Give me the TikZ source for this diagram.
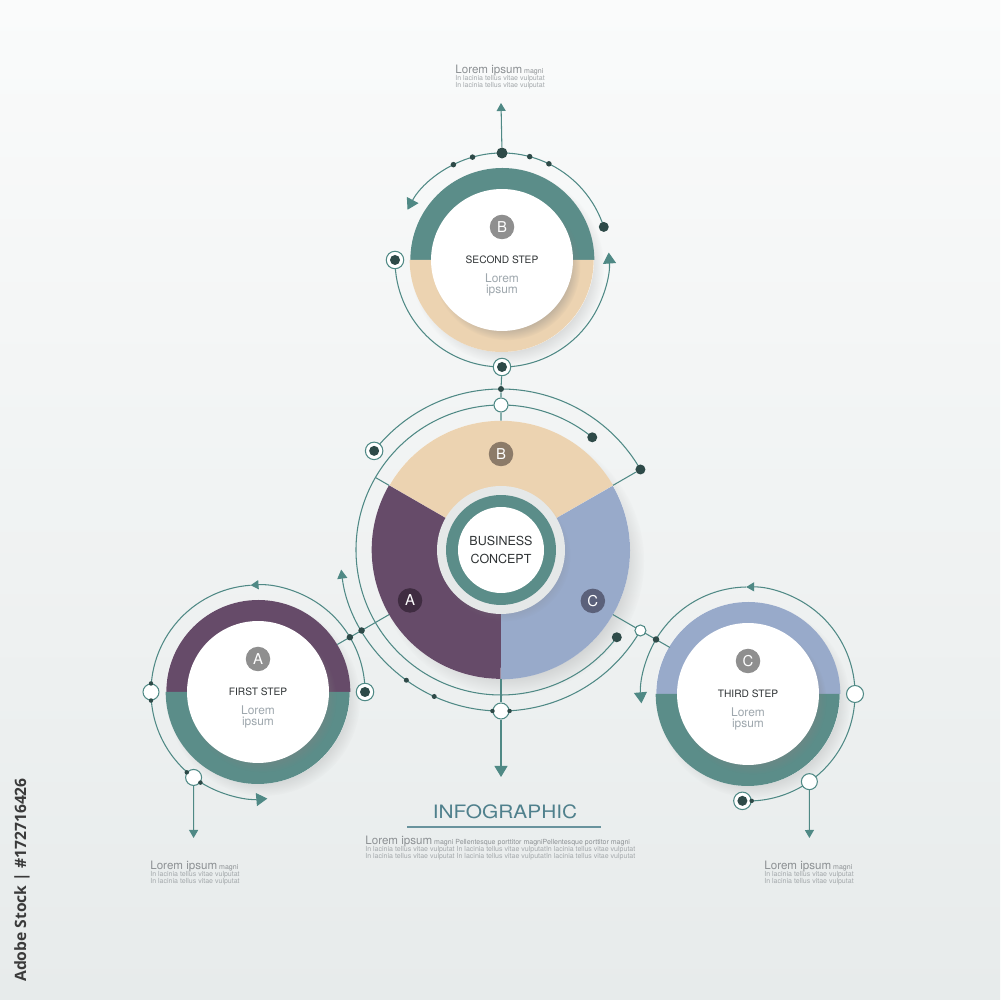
\documentclass[tikz,border=0pt]{standalone}
\usepackage{fontspec}
\setmainfont{TeX Gyre Heros}
\newfontfamily\widefont[FakeStretch=1.13]{TeX Gyre Heros}
\newfontfamily\stockfont{Open Sans}
\usetikzlibrary{arrows.meta,shadows,calc,positioning}
\pgfdeclarelayer{back}
\pgfdeclarelayer{wires}
\pgfsetlayers{back,wires,main}

\definecolor{wirec}{HTML}{4F8985}
\definecolor{dotc}{HTML}{2E4A48}
\definecolor{tealc}{HTML}{5B8D89}
\definecolor{tanc}{HTML}{ECD3B1}
\definecolor{plumc}{HTML}{664B69}
\definecolor{bluec}{HTML}{98AACA}
\definecolor{hubgray}{HTML}{E5E8E8}
\definecolor{badgeB}{HTML}{8C7B69}
\definecolor{badgeA}{HTML}{3F2C41}
\definecolor{badgeC}{HTML}{5B617A}
\definecolor{badgegray}{HTML}{8F8F8F}
\definecolor{titlec}{HTML}{2F3335}
\definecolor{loremc}{HTML}{9EA7AD}
\definecolor{notec}{HTML}{8D9194}
\definecolor{notelight}{HTML}{A3A8AB}
\definecolor{infoc}{HTML}{4F808C}
\definecolor{bgtop}{HTML}{FAFBFB}
\definecolor{bgbot}{HTML}{E7EBEB}
\definecolor{stockc}{HTML}{3A3A3A}

\tikzstyle{wire}=[draw=wirec, line width=0.6pt]
\tikzstyle{bigtip}=[-{Triangle[length=0.22cm,width=0.26cm]}]
\tikzstyle{smalltip}=[-{Triangle[length=0.16cm,width=0.18cm]}]
\tikzstyle{ringdot}=[circle, draw=wirec, line width=0.6pt, fill=white, minimum size=0.35cm, inner sep=0pt,
  path picture={\fill[dotc] (path picture bounding box.center) circle[radius=0.1cm];}]
\tikzstyle{holedot}=[circle, draw=wirec, line width=0.6pt, fill=white, minimum size=0.32cm, inner sep=0pt]
\tikzstyle{bigdot}=[circle, fill=dotc, minimum size=0.2cm, inner sep=0pt]
\tikzstyle{smalldot}=[circle, fill=dotc, minimum size=0.12cm, inner sep=0pt]
\tikzstyle{badge}=[circle, fill=badgegray, text=white, minimum size=0.49cm, inner sep=0pt, font=\fontsize{8.5}{8.5}\selectfont]
\tikzstyle{stepring}=[circle, fill=white, minimum size=3.68cm, inner sep=0pt,
  circular drop shadow={shadow xshift=3pt, shadow yshift=-4pt, shadow scale=1.05, opacity=0.22}]
\tikzstyle{stepface}=[circle, fill=white, minimum size=2.84cm, inner sep=0pt,
  circular drop shadow={shadow xshift=2.5pt, shadow yshift=-3.5pt, shadow scale=1.04, opacity=0.38}]
\tikzstyle{steptitle}=[inner sep=0pt, text=titlec, font=\fontsize{5.8}{6}\selectfont]
\tikzstyle{steplorem}=[inner sep=0pt, text=loremc, align=center, font=\fontsize{6.8}{6.4}\selectfont]
\tikzstyle{notehead}=[inner sep=0pt, anchor=base west, text=notec, font=\fontsize{6.6}{6.6}\selectfont]
\tikzstyle{noteline}=[inner sep=0pt, text=notelight, font=\fontsize{4}{4}\selectfont]

\begin{document}
\begin{tikzpicture}[x=0.02cm, y=0.02cm]
\useasboundingbox (0,0) rectangle (1000,1000);
\coordinate (M) at (501,450);
\coordinate (GB) at (502,740);
\coordinate (GA) at (258,308);
\coordinate (GC) at (748,306);

\begin{pgfonlayer}{back}
\shade[top color=bgtop, bottom color=bgbot] (0,0) rectangle (1000,1000);
% business concept disc
\node[circle, fill=white, minimum size=5.16cm, inner sep=0pt,
  circular drop shadow={shadow xshift=5pt, shadow yshift=-6pt, shadow scale=1.04, opacity=0.25}] (pie) at (M) {};
\fill[tanc] (M) -- (pie.30) arc[start angle=30, end angle=150, radius=129] -- cycle;
\fill[plumc] (M) -- (pie.150) arc[start angle=150, end angle=270, radius=129] -- cycle;
\fill[bluec] (M) -- (pie.270) arc[start angle=270, end angle=390, radius=129] -- cycle;
\node[circle, fill=hubgray, minimum size=2.56cm, inner sep=0pt,
  circular drop shadow={shadow xshift=2pt, shadow yshift=-3pt, shadow scale=1.03, opacity=0.2}] (hubbase) at (M) {};
\node[circle, fill=tealc, minimum size=2.2cm, inner sep=0pt] (hubring) at (M) {};
\node[circle, fill=white, minimum size=1.72cm, inner sep=0pt, align=center, text=titlec,
  font=\fontsize{7.1}{10.2}\selectfont] (hub) at (M) {BUSINESS\\CONCEPT};
\node[badge, fill=badgeB] (pieB) at ($(M)+(90:96)$) {B};
\node[badge, fill=badgeA] (pieA) at ($(M)+(209:104)$) {A};
\node[badge, fill=badgeC] (pieC) at ($(M)+(331:105)$) {C};

% second step
\node[stepring] (ringB) at (GB) {};
\fill[tealc] (GB) -- (ringB.0) arc[start angle=0, end angle=180, radius=92] -- cycle;
\fill[tanc] (GB) -- (ringB.180) arc[start angle=180, end angle=360, radius=92] -- cycle;
\node[stepface] (faceB) at (GB) {};
\node[badge] (badgeB) at ($(GB)+(0,33)$) {B};
\node[steptitle] (titleB) at (GB) {SECOND STEP};
\node[steplorem, below=5pt of titleB] (loremB) {Lorem\\ipsum};

% first step
\node[stepring] (ringA) at (GA) {};
\fill[plumc] (GA) -- (ringA.0) arc[start angle=0, end angle=180, radius=92] -- cycle;
\fill[tealc] (GA) -- (ringA.180) arc[start angle=180, end angle=360, radius=92] -- cycle;
\node[stepface] (faceA) at (GA) {};
\node[badge] (badgeA) at ($(GA)+(0,33)$) {A};
\node[steptitle] (titleA) at (GA) {FIRST STEP};
\node[steplorem, below=5pt of titleA] (loremA) {Lorem\\ipsum};

% third step
\node[stepring] (ringC) at (GC) {};
\fill[bluec] (GC) -- (ringC.0) arc[start angle=0, end angle=180, radius=92] -- cycle;
\fill[tealc] (GC) -- (ringC.180) arc[start angle=180, end angle=360, radius=92] -- cycle;
\node[stepface] (faceC) at (GC) {};
\node[badge] (badgeC) at ($(GC)+(0,33)$) {C};
\node[steptitle] (titleC) at (GC) {THIRD STEP};
\node[steplorem, below=5pt of titleC] (loremC) {Lorem\\ipsum};
\end{pgfonlayer}

% dots round the centre
\node[bigdot] (d30) at ($(M)+(30:161)$) {};
\node[smalldot] (d90) at ($(M)+(90:161)$) {};
\node[ringdot] (r142) at ($(M)+(142:161)$) {};
\node[holedot, minimum size=0.28cm] (h90) at ($(M)+(90:145)$) {};
\node[bigdot] (d51) at ($(M)+(51:145)$) {};
\node[bigdot] (d323) at ($(M)+(323:145)$) {};
\node[smalldot, minimum size=0.13cm] (d210) at ($(M)+(210:161)$) {};
\node[smalldot, minimum size=0.1cm] (d234) at ($(M)+(234:161)$) {};
\node[smalldot, minimum size=0.1cm] (d245) at ($(M)+(245.5:161)$) {};
\node[holedot] (h270) at ($(M)+(270:161)$) {};
\node[smalldot, minimum size=0.09cm] (h270w) at (h270.west) {};
\node[smalldot, minimum size=0.09cm] (h270e) at (h270.east) {};
\node[holedot, minimum size=0.22cm] (h330) at ($(M)+(330:161)$) {};
\coordinate (k150) at ($(M)+(150:145)$);
\coordinate (e210) at ($(M)+(210:189)$);
\coordinate (e330) at ($(M)+(330:195)$);
\coordinate (downtip) at (501,223);

% dots of second step
\node[bigdot] (dB18) at ($(GB)+(18:107)$) {};
\foreach \a in {64,75,106,117}
  \node[smalldot, minimum size=0.11cm] (dB\a) at ($(GB)+(\a:107)$) {};
\node[bigdot, minimum size=0.22cm] (dB90) at ($(GB)+(90:107)$) {};
\node[ringdot] (rB180) at ($(GB)+(180:107)$) {};
\node[ringdot] (rB270) at ($(GB)+(270:107)$) {};
\coordinate (tipB) at (501,897);

% dots of first step
\node[ringdot] (rA0) at ($(GA)+(0:107)$) {};
\node[smalldot, minimum size=0.13cm] (dA31) at ($(M)+(210:174.5)$) {};
\node[holedot] (hA180) at ($(GA)+(180:107)$) {};
\node[smalldot, minimum size=0.09cm] (hA180n) at (hA180.north) {};
\node[smalldot, minimum size=0.09cm] (hA180s) at (hA180.south) {};
\node[holedot] (hA233) at ($(GA)+(233:107)$) {};
\node[smalldot, minimum size=0.09cm] (hA233a) at (hA233.143) {};
\node[smalldot, minimum size=0.09cm] (hA233b) at (hA233.323) {};
\coordinate (tipA) at (193.6,162);

% dots of third step
\node[ringdot] (rC267) at ($(GC)+(267:107)$) {};
\node[smalldot, minimum size=0.09cm] (rC267e) at (rC267.east) {};
\node[holedot, minimum size=0.34cm] (hC0) at ($(GC)+(0:107)$) {};
\node[holedot] (hC305) at ($(GC)+(305:107)$) {};
\node[smalldot, minimum size=0.13cm] (dC149) at ($(M)+(330:179)$) {};
\coordinate (tipC) at (809.4,162);

\begin{pgfonlayer}{wires}
\draw[wire] (M) ++(30:161) arc[start angle=30, end angle=142, radius=161];
\draw[wire] (M) ++(51:145) arc[start angle=51, end angle=323, radius=145];
\draw[wire, -{Triangle[length=0.18cm,width=0.2cm]}] (M) ++(330:161) arc[start angle=330, end angle=187, radius=161];
\draw[wire] (pie.30) -- (d30);
\draw[wire] (pie.150) -- (k150);
\draw[wire] (pie.210) -- (e210);
\draw[wire] (pie.330) -- (e330);
\draw[wire] (pie.90) -- (h90) -- (d90) -- (rB270);
\draw[wire] (pie.270) -- (h270);
\draw[wire, bigtip] (h270) -- (downtip);

\draw[wire, bigtip] (GB) ++(18:107) arc[start angle=18, end angle=152, radius=107];
\draw[wire, bigtip] (GB) ++(180:107) arc[start angle=180, end angle=364, radius=107];
\draw[wire, smalltip] (dB90) -- (tipB);

\draw[wire, smalltip] (GA) ++(0:107) arc[start angle=0, end angle=94, radius=107];
\draw[wire, bigtip] (GA) ++(94:107) arc[start angle=94, end angle=275, radius=107];
\draw[wire, smalltip] (hA233) -- (tipA);

\draw[wire, smalltip] (GC) ++(267:107) arc[start angle=267, end angle=451, radius=107];
\draw[wire, bigtip] (GC) ++(91:107) arc[start angle=91, end angle=185, radius=107];
\draw[wire, smalltip] (hC305) -- (tipC);
\end{pgfonlayer}

% notes
\node[notehead] (noteTop) at (455,926) {Lorem ipsum{\fontsize{4}{4}\selectfont\ magni}};
\node[noteline, below right=0.8pt and 0pt of noteTop.base west] (noteTop2) {In lacinia tellus vitae vulputat};
\node[noteline, below right=0.8pt and 0pt of noteTop2.base west] (noteTop3) {In lacinia tellus vitae vulputat};

\node[notehead] (noteLeft) at (150,130) {Lorem ipsum{\fontsize{4}{4}\selectfont\ magni}};
\node[noteline, below right=0.8pt and 0pt of noteLeft.base west] (noteLeft2) {In lacinia tellus vitae vulputat};
\node[noteline, below right=0.8pt and 0pt of noteLeft2.base west] (noteLeft3) {In lacinia tellus vitae vulputat};

\node[notehead] (noteRight) at (764,130) {Lorem ipsum{\fontsize{4}{4}\selectfont\ magni}};
\node[noteline, below right=0.8pt and 0pt of noteRight.base west] (noteRight2) {In lacinia tellus vitae vulputat};
\node[noteline, below right=0.8pt and 0pt of noteRight2.base west] (noteRight3) {In lacinia tellus vitae vulputat};

\node[inner sep=0pt, anchor=base, text=infoc, font=\widefont\fontsize{10.5}{10.5}\selectfont] (infoTitle) at (505,181.7) {INFOGRAPHIC};
\coordinate (ruleL) at (407,173.3);
\coordinate (ruleR) at (600.7,173.3);
\draw[draw=infoc!85, line width=1.1pt] (ruleL) -- (ruleR);
\node[notehead] (noteMid) at (365,155) {Lorem ipsum{\fontsize{4}{4}\selectfont\ magni Pellentesque porttitor magniPellentesque porttitor magni}};
\node[noteline, below right=0.8pt and 0pt of noteMid.base west] (noteMid2) {In lacinia tellus vitae vulputat In lacinia tellus vitae vulputatIn lacinia tellus vitae vulputat};
\node[noteline, below right=0.8pt and 0pt of noteMid2.base west] (noteMid3) {In lacinia tellus vitae vulputat In lacinia tellus vitae vulputatIn lacinia tellus vitae vulputat};

\node[rotate=90, inner sep=0pt, text=stockc, font=\stockfont\bfseries\fontsize{8.9}{8.9}\selectfont] (stockId) at (22,120) {Adobe Stock | \#172716426};
\end{tikzpicture}
\end{document}
